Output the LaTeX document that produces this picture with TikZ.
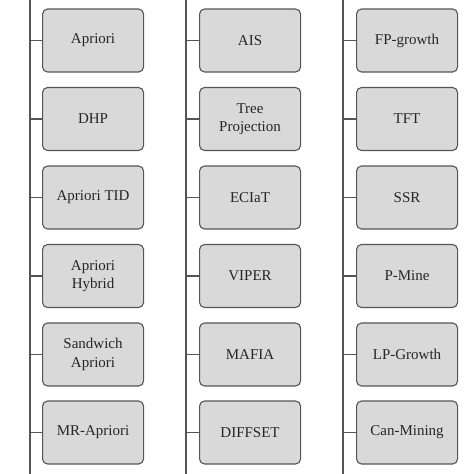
\documentclass[tikz,border=0pt]{standalone}
\usepackage{fontspec}
\setmainfont{Liberation Serif}
\definecolor{boxfill}{HTML}{D9D9D9}
\definecolor{edge}{HTML}{555555}
\begin{document}
\begin{tikzpicture}[x=1pt,y=-1pt,
  algbox/.style={draw=edge,line width=1.1pt,fill=boxfill,rounded corners=5pt,
    minimum width=101pt,minimum height=63pt,inner sep=2pt,align=center,
    text=black!85,font=\fontsize{15}{18.5}\selectfont,anchor=west},
  trunk/.style={draw=edge,line width=1.1pt},
  stub/.style={draw=edge,line width=1.1pt}]
\useasboundingbox (0,0) rectangle (474,474);
% trunk coordinates
\coordinate (t1a) at (30,0);   \coordinate (t1b) at (30,474);
\coordinate (t2a) at (186,0);  \coordinate (t2b) at (186,474);
\coordinate (t3a) at (343,0);  \coordinate (t3b) at (343,474);
\draw[trunk] (t1a) -- (t1b);
\draw[trunk] (t2a) -- (t2b);
\draw[trunk] (t3a) -- (t3b);
% column 1
\node[algbox] (a1) at (42,40.5) {Apriori};
\node[algbox] (a2) at (42,119) {DHP};
\node[algbox] (a3) at (42,197.5) {Apriori TID};
\node[algbox] (a4) at (42,276) {Apriori\\Hybrid};
\node[algbox] (a5) at (42,354.5) {Sandwich\\Apriori};
\node[algbox] (a6) at (42,432.5) {MR-Apriori};
% column 2
\node[algbox] (b1) at (199,40.5) {AIS};
\node[algbox] (b2) at (199,119) {Tree\\Projection};
\node[algbox] (b3) at (199,197.5) {ECIaT};
\node[algbox] (b4) at (199,276) {VIPER};
\node[algbox] (b5) at (199,354.5) {MAFIA};
\node[algbox] (b6) at (199,432.5) {DIFFSET};
% column 3
\node[algbox] (c1) at (356,40.5) {FP-growth};
\node[algbox] (c2) at (356,119) {TFT};
\node[algbox] (c3) at (356,197.5) {SSR};
\node[algbox] (c4) at (356,276) {P-Mine};
\node[algbox] (c5) at (356,354.5) {LP-Growth};
\node[algbox] (c6) at (356,432.5) {Can-Mining};
% stubs
\foreach \n in {a1,a2,a3,a4,a5,a6}{\draw[stub] (\n.west) -- ++(-12,0);}
\foreach \n in {b1,b2,b3,b4,b5,b6}{\draw[stub] (\n.west) -- ++(-13,0);}
\foreach \n in {c1,c2,c3,c4,c5,c6}{\draw[stub] (\n.west) -- ++(-13,0);}
\end{tikzpicture}
\end{document}
